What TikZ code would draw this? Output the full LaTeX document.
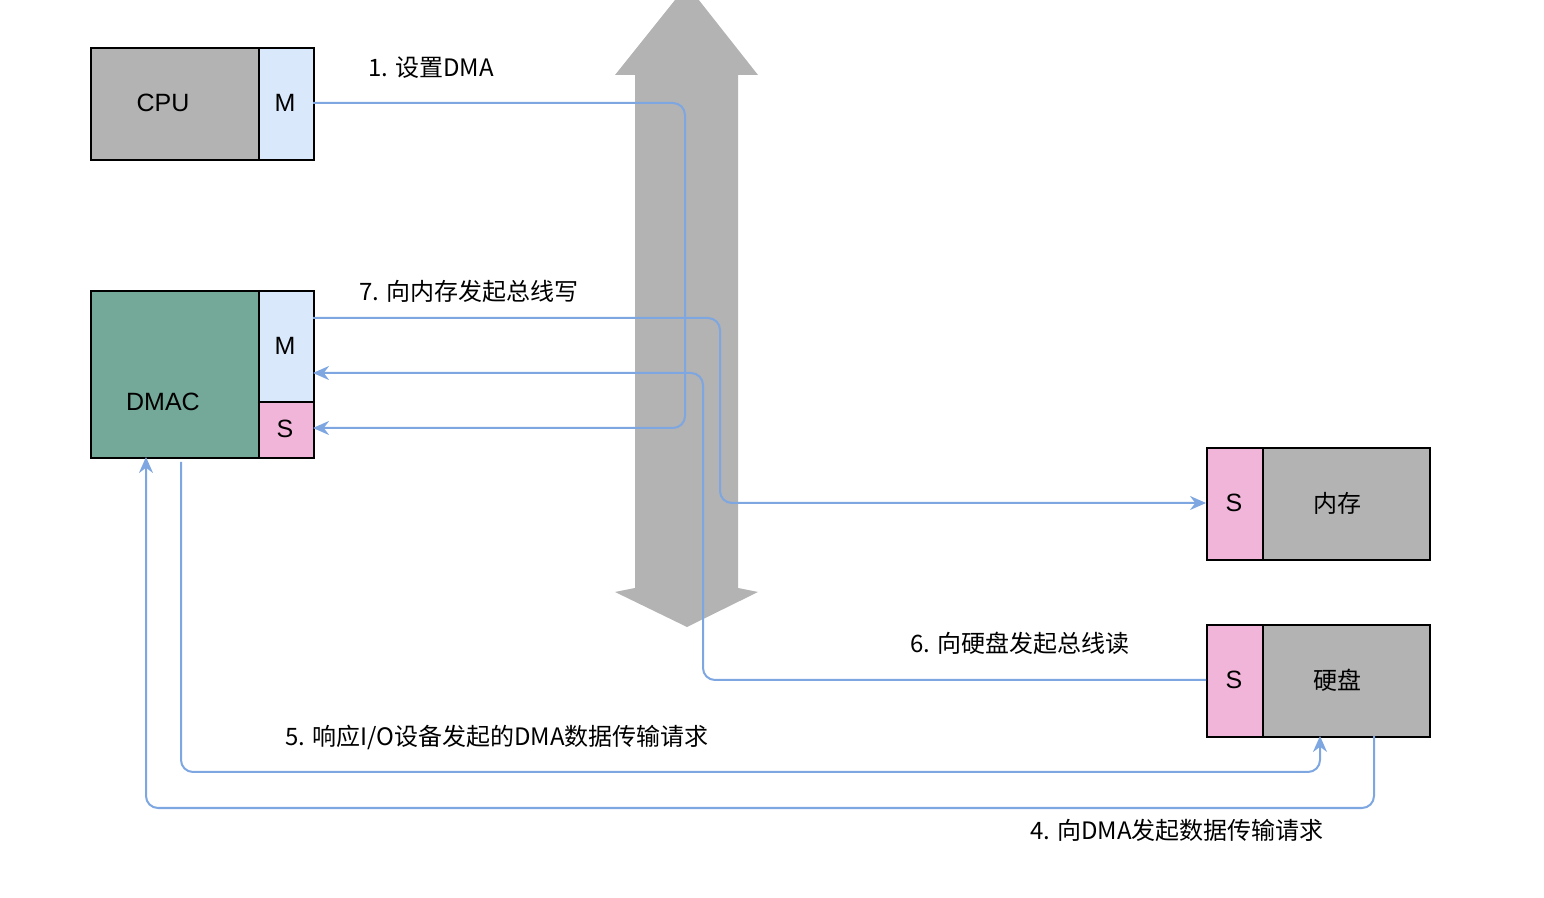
\documentclass[tikz,border=0pt]{standalone}
\usepackage{fontspec}
\setmainfont{Liberation Sans}
\newfontfamily\cjk{Noto Sans CJK SC}
\usetikzlibrary{arrows.meta}
\definecolor{grayb}{HTML}{B3B3B3}
\definecolor{lblue}{HTML}{DAE8FC}
\definecolor{pinkb}{HTML}{F2B5DA}
\definecolor{greenb}{HTML}{74A898}
\definecolor{linec}{HTML}{7EA6E0}
\begin{document}
\begin{tikzpicture}[x=0.5pt,y=-0.5pt,
  box/.style={draw=black,line width=1.2pt,inner sep=0pt},
  conn/.style={draw=linec,line width=1pt,rounded corners=6pt},
  arr/.style={conn,-{Stealth[length=8pt,width=7pt]}},
  lbl/.style={font=\fontsize{12}{14}\cjk,inner sep=0pt},
  txt/.style={font=\fontsize{12.5}{14}\selectfont}]
\useasboundingbox (0,0) rectangle (1544,898);
% bus arrow
\fill[grayb] (687,-15) -- (758,75) -- (738,75) -- (738,588) -- (758,592) -- (687,627) -- (615,592) -- (635,588) -- (635,75) -- (615,75) -- cycle;
% CPU
\node[box,fill=grayb,minimum width=84pt,minimum height=56pt,anchor=north west] (cpu) at (90,47) {};
\node[txt] at (163,103) {CPU};
\node[box,fill=lblue,minimum width=27.5pt,minimum height=56pt,anchor=north west] (cpum) at (258,47) {};
\node[txt] at (285,103) {M};
% DMAC
\node[box,fill=greenb,minimum width=84pt,minimum height=83.5pt,anchor=north west] (dmac) at (90,290) {};
\node[txt] at (163,402) {DMAC};
\node[box,fill=lblue,minimum width=27.5pt,minimum height=55.5pt,anchor=north west] (dm) at (258,290) {};
\node[txt] at (285,346) {M};
\node[box,fill=pinkb,minimum width=27.5pt,minimum height=28pt,anchor=north west] (ds) at (258,401) {};
\node[txt] at (285,429) {S};
% memory
\node[box,fill=pinkb,minimum width=28pt,minimum height=56pt,anchor=north west] (ms) at (1206,447) {};
\node[txt] at (1234,503) {S};
\node[box,fill=grayb,minimum width=83.5pt,minimum height=56pt,anchor=north west] (mem) at (1262,447) {};
\node[lbl] at (1337,503) {内存};
% disk
\node[box,fill=pinkb,minimum width=28pt,minimum height=56pt,anchor=north west] (hs) at (1206,624) {};
\node[txt] at (1234,680) {S};
\node[box,fill=grayb,minimum width=83.5pt,minimum height=56pt,anchor=north west] (hd) at (1262,624) {};
\node[lbl] at (1337,680) {硬盘};
% connectors
\coordinate (c1) at (313,103);
\coordinate (c1e) at (313,428);
\draw[arr] (c1) -- (685,103) -- (685,428) -- (c1e);
\coordinate (c7) at (313,318);
\coordinate (c7e) at (1206,503);
\draw[arr] (c7) -- (720,318) -- (720,503) -- (c7e);
\coordinate (c6) at (1206,680);
\coordinate (c6e) at (313,373);
\draw[arr] (c6) -- (703,680) -- (703,373) -- (c6e);
\coordinate (c5) at (181,462);
\coordinate (c5e) at (1320,736);
\draw[arr] (c5) -- (181,772) -- (1320,772) -- (c5e);
\coordinate (c4) at (1374,736);
\coordinate (c4e) at (146,457);
\draw[arr] (c4) -- (1374,808) -- (146,808) -- (c4e);
% labels
\node[lbl] at (431,68) {1. 设置DMA};
\node[lbl] at (469,291) {7. 向内存发起总线写};
\node[lbl] at (1020,643) {6. 向硬盘发起总线读};
\node[lbl] at (497,737) {5. 响应I/O设备发起的DMA数据传输请求};
\node[lbl] at (1177,830) {4. 向DMA发起数据传输请求};
\end{tikzpicture}
\end{document}
